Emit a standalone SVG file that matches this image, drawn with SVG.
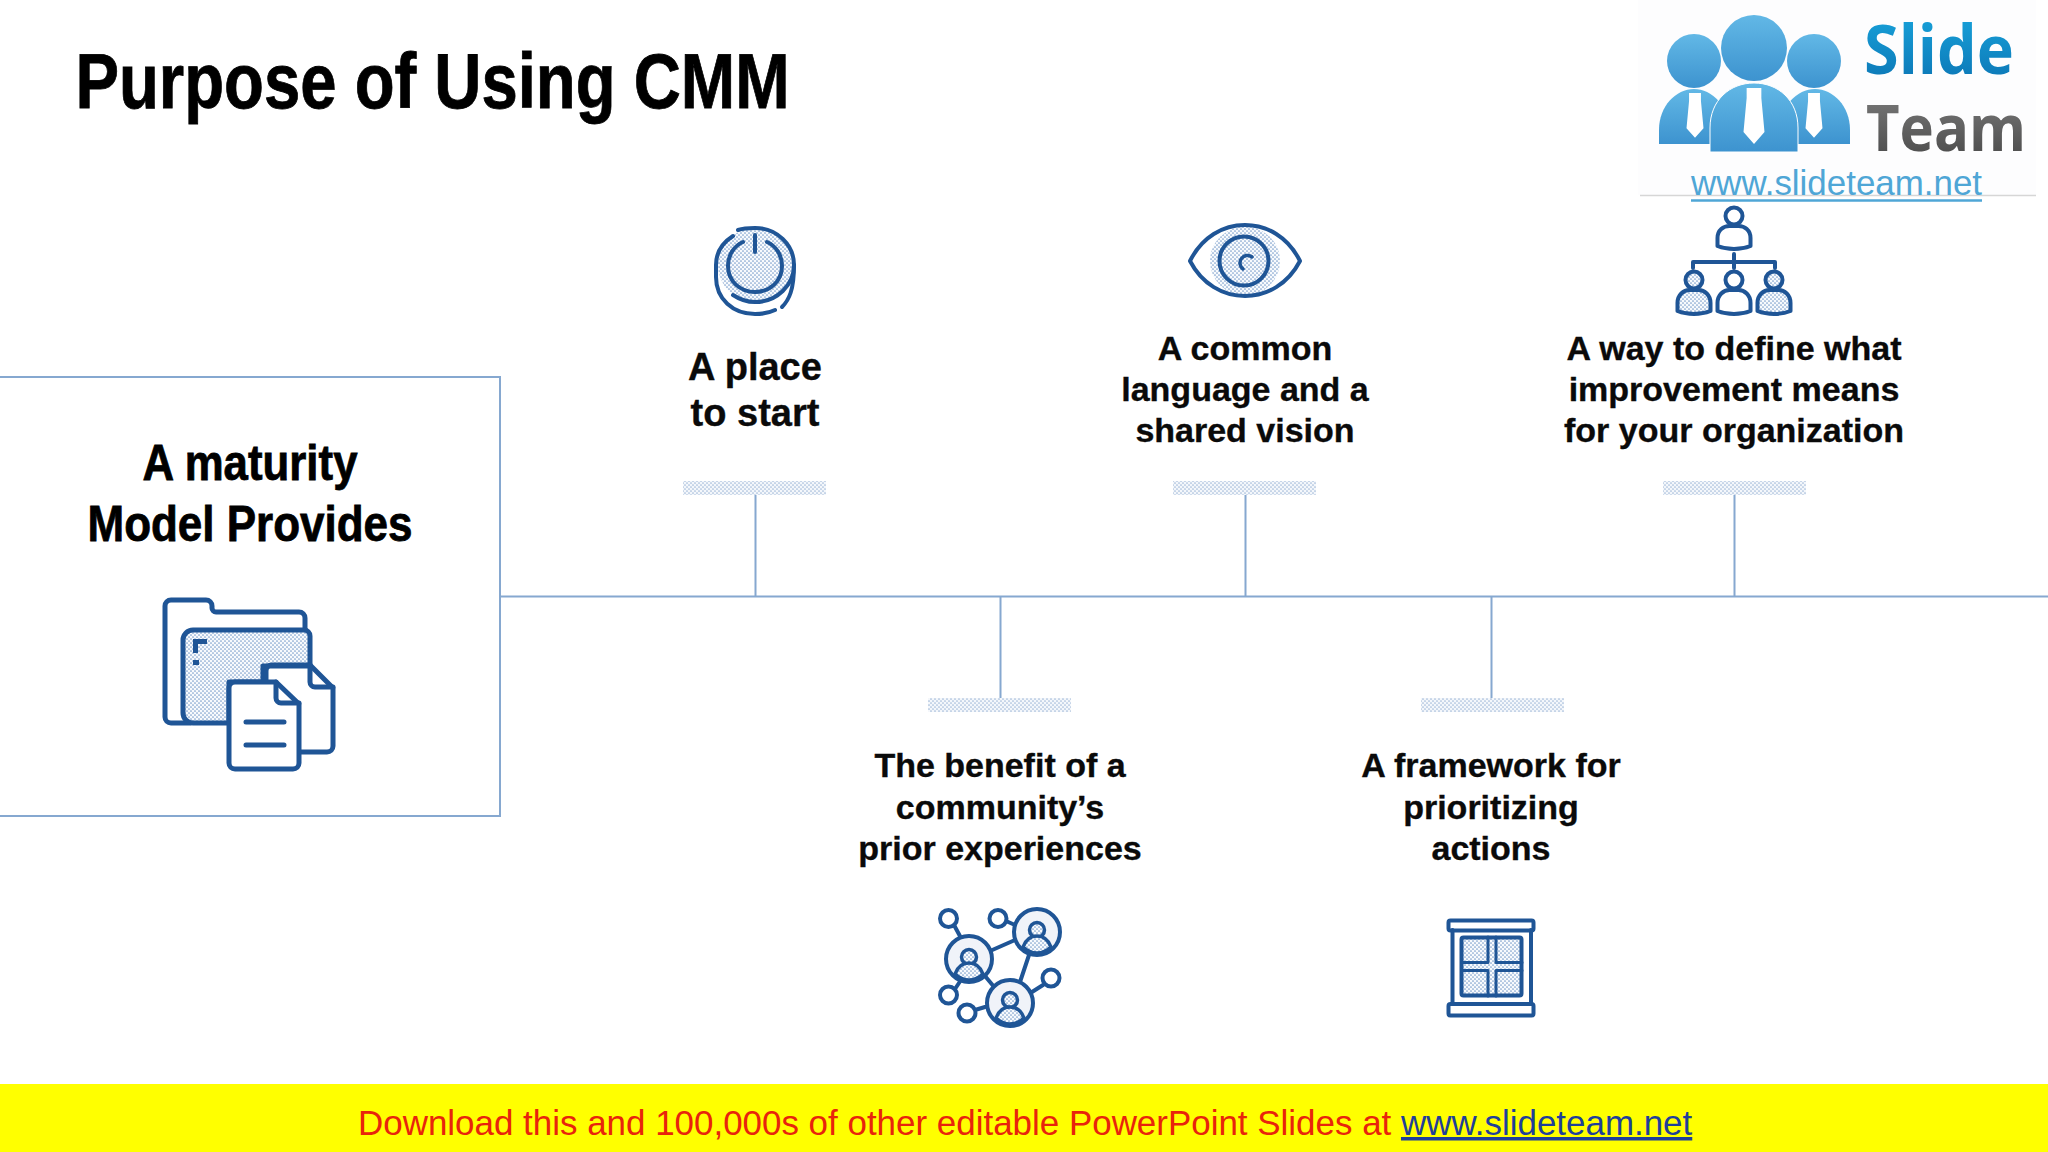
<svg xmlns="http://www.w3.org/2000/svg" width="2048" height="1152" viewBox="0 0 2048 1152">
<style>
.ic{fill:none;stroke:#1f5596;stroke-width:4;stroke-linecap:round;stroke-linejoin:round}
.th{stroke-width:5}
.dot{fill:url(#dots)}
.w{fill:#fff}
.conn{stroke:#86a8d0;stroke-width:2;fill:none}
.bar{fill:url(#bardots)}
.lab{font-family:"Liberation Sans",Arial,sans-serif;font-weight:700;fill:#0a0a0a;stroke:#0a0a0a;stroke-width:.35;text-anchor:middle;font-size:34px}
.big{font-size:38px}
.cond{font-family:"Liberation Sans",Arial,sans-serif;font-weight:700;fill:#000;stroke:#000;stroke-width:.8}
</style>
<defs>
<pattern id="dots" width="4" height="4" patternUnits="userSpaceOnUse"><rect width="4" height="4" fill="#f8fafd"/><circle cx="1" cy="1" r="0.85" fill="#7c9fcc"/><circle cx="3" cy="3" r="0.85" fill="#7c9fcc"/></pattern>
<pattern id="bardots" width="4" height="4" patternUnits="userSpaceOnUse"><rect width="4" height="4" fill="#f4f7fb"/><circle cx="1" cy="1" r="0.85" fill="#a3bbd9"/><circle cx="3" cy="3" r="0.85" fill="#a3bbd9"/></pattern>
<linearGradient id="lb" x1="0" y1="0" x2="0" y2="1"><stop offset="0" stop-color="#62b8e6"/><stop offset="1" stop-color="#3d93cf"/></linearGradient>
<linearGradient id="ts" x1="0" y1="0" x2="0" y2="1"><stop offset="0" stop-color="#1aa9e0"/><stop offset="1" stop-color="#0a70b0"/></linearGradient>
<linearGradient id="tg" x1="0" y1="0" x2="0" y2="1"><stop offset="0" stop-color="#808080"/><stop offset="1" stop-color="#444"/></linearGradient>
<g id="tie"><path d="M-7 0h14v10l3 34-10 12-10-12 3-34z" fill="#fff"/></g>
</defs>
<rect width="2048" height="1152" fill="#fff"/>
<text id="title" class="cond" x="75.500" y="107.500" font-size="77" textLength="714" lengthAdjust="spacingAndGlyphs">Purpose of Using CMM</text>

<g id="logo">
<rect x="1638" y="0" width="398" height="195" fill="#fdfdfe"/>
<path d="M1640 195.500H2036" stroke="#d6d6d6" stroke-width="1.500"/>
<path d="M1659 144v-14c0-24 17-41 35-41s35 17 35 41v14z" fill="url(#lb)"/>
<circle cx="1694" cy="61" r="27" fill="url(#lb)"/>
<path d="M1780 144v-14c0-24 17-41 35-41s35 17 35 41v14z" fill="url(#lb)"/>
<circle cx="1814" cy="61" r="27" fill="url(#lb)"/>
<path d="M1710 152v-24c0-28 20-45 44-45s44 17 44 45v24z" fill="url(#lb)" stroke="#fff" stroke-width="1"/>
<circle cx="1754" cy="48" r="33" fill="url(#lb)"/>
<use href="#tie" transform="translate(1695 93) scale(.85 .8)"/>
<use href="#tie" transform="translate(1754 88) scale(1.05 1)"/>
<use href="#tie" transform="translate(1814 93) scale(.85 .8)"/>
<text x="1864" y="74" font-family="Open Sans,sans-serif" font-weight="700" font-size="68" fill="url(#ts)" textLength="150" lengthAdjust="spacingAndGlyphs">Slide</text>
<text x="1866" y="151" font-family="Open Sans,sans-serif" font-weight="700" font-size="64" fill="url(#tg)" textLength="160" lengthAdjust="spacingAndGlyphs">Team</text>
<text x="1691" y="195" font-family="Liberation Sans,sans-serif" font-size="35" fill="#4fa6d6" textLength="291" lengthAdjust="spacingAndGlyphs">www.slideteam.net</text>
<path d="M1691 200.500H1982" stroke="#4fa6d6" stroke-width="2.500"/>
</g>

<g id="connectors">
<path class="conn" d="M500 596.500H2048M755.500 495V596M1245.500 495V596M1734.500 495V596M1000.500 596V699M1491.500 596V699"/>
<rect class="bar" x="683" y="481" width="143" height="14"/>
<rect class="bar" x="1173" y="481" width="143" height="14"/>
<rect class="bar" x="1663" y="481" width="143" height="14"/>
<rect class="bar" x="928" y="698" width="143" height="14"/>
<rect class="bar" x="1421" y="698" width="143" height="14"/>
</g>

<g id="box">
<rect x="-5" y="377" width="505" height="439" fill="#fff" stroke="#86a8d0" stroke-width="2"/>
<text class="cond" x="250" y="480" font-size="50" text-anchor="middle" textLength="215" lengthAdjust="spacingAndGlyphs">A maturity</text>
<text class="cond" x="250" y="541" font-size="50" text-anchor="middle" textLength="325" lengthAdjust="spacingAndGlyphs">Model Provides</text>
<g class="ic th">
<path d="M190 723h-19a6 6 0 0 1-6-6V606a6 6 0 0 1 6-6h35a6 6 0 0 1 6 6v2a4 4 0 0 0 4 4h83a6 6 0 0 1 6 6v12"/>
<path class="dot" d="M265 723h-72a10 10 0 0 1-10-10V640a10 10 0 0 1 10-10h111a6 6 0 0 1 6 6v30h-47v16h-34v41z"/>
<path d="M266 682v-11a6 6 0 0 1 6-6h38l23 23v58a6 6 0 0 1-6 6h-28"/>
<path d="M310 665v17a5 5 0 0 0 5 5h18"/>
<path class="w" d="M235 682h41l23 22v59a6 6 0 0 1-6 6h-58a6 6 0 0 1-6-6v-75a6 6 0 0 1 6-6z"/>
<path d="M276 682v16a5 5 0 0 0 5 5h18M246 722h38M246 745h38"/>
</g>
<path d="M193 639h14v5h-9v9h-5zM193 660h6v5h-6z" fill="#1f5596"/>
</g>

<g id="place">
<circle class="dot" cx="755" cy="265" r="37"/>
<g class="ic" stroke-width="3.500">
<path d="M733 236C722 243 716 253 716 265V277C716 299 733 314 755 314C762 314 769 313 775 310"/>
<path d="M738 230C744 228 749 228 755 228C777 228 794 245 794 265C794 285 777 302 755 302C747 302 739 299 733 295"/>
<path d="M782 307C789 300 794 290 794 265"/>
<path d="M743 242C734 246 728 255 728 266C728 281 740 292 755 292C770 292 782 281 782 266C782 255 776 246 767 242"/>
<path d="M755 235v17"/>
</g>
<text class="lab big" x="755" y="380">A place</text>
<text class="lab big" x="755" y="426">to start</text>
</g>

<g id="vision">
<g class="ic">
<ellipse class="dot" cx="1245" cy="261" rx="35" ry="34.500" stroke="none"/>
<path d="M1190 261c12-24 33-36 55-36s43 12 55 36c-12 23-33 35-55 35s-43-12-55-35z"/>
<circle cx="1244" cy="261" r="24.500"/>
<path d="M1252 257a7.500 7.500 0 1 0-9 12" stroke-width="3.500"/>
</g>
<text class="lab" x="1245" y="360">A common</text>
<text class="lab" x="1245" y="401">language and a</text>
<text class="lab" x="1245" y="442">shared vision</text>
</g>

<g id="improvement">
<g class="ic" stroke-width="3.500">
<circle cx="1734" cy="216" r="8.500"/>
<path d="M1717.500 246v-8c0-8 6-12 12-12h9c6 0 12 4 12 12v8c-10 4-23 4-33 0z"/>
<path d="M1693 268v-6h82v6M1734 254v14"/>
<circle class="dot" cx="1694" cy="280" r="8.500"/>
<path class="dot" d="M1677.500 311v-8c0-8 6-13 12-13h9c6 0 12 5 12 13v8c-10 4-23 4-33 0z"/>
<circle cx="1734" cy="280" r="8.500"/>
<path d="M1717.500 311v-8c0-8 6-13 12-13h9c6 0 12 5 12 13v8c-10 4-23 4-33 0z"/>
<circle class="dot" cx="1774" cy="280" r="8.500"/>
<path class="dot" d="M1757.500 311v-8c0-8 6-13 12-13h9c6 0 12 5 12 13v8c-10 4-23 4-33 0z"/>
</g>
<text class="lab" x="1734" y="360">A way to define what</text>
<text class="lab" x="1734" y="401">improvement means</text>
<text class="lab" x="1734" y="442">for your organization</text>
</g>

<g id="experiences">
<text class="lab" x="1000" y="777">The benefit of a</text>
<text class="lab" x="1000" y="819">community’s</text>
<text class="lab" x="1000" y="860">prior experiences</text>
<g class="ic">
<path d="M954 925l7 13M1006 921l9 4M990 951l25-11M1029 955l-9 27M985 976l10 12M1032 992l11-7M955 989l6-9M975 1010l10-3"/>
<g fill="#f0f3f9"><circle cx="969" cy="959" r="23"/><circle cx="1037" cy="932" r="23"/><circle cx="1010" cy="1003" r="23"/></g>
<circle class="w" cx="948.500" cy="918.500" r="8.500"/><circle class="w" cx="998" cy="918.500" r="8.500"/><circle class="w" cx="1051" cy="978" r="8.500"/><circle class="w" cx="948.500" cy="995" r="8.500"/><circle class="w" cx="967" cy="1013" r="8.500"/>
<g stroke-width="3.500">
<circle class="dot" cx="969" cy="957" r="7.500"/><path class="dot" d="M955 974c3-8 8-11 14-11s11 3 14 11c-8 8-20 8-28 0z"/>
<circle class="dot" cx="1037" cy="930" r="7.500"/><path class="dot" d="M1023 947c3-8 8-11 14-11s11 3 14 11c-8 8-20 8-28 0z"/>
<circle class="dot" cx="1010" cy="1000" r="7.500"/><path class="dot" d="M996 1018c3-8 8-11 14-11s11 3 14 11c-8 8-20 8-28 0z"/>
</g>
</g>
</g>

<g id="framework">
<text class="lab" x="1491" y="777">A framework for</text>
<text class="lab" x="1491" y="819">prioritizing</text>
<text class="lab" x="1491" y="860">actions</text>
<g class="ic" stroke-width="3.500">
<path d="M1452.500 930V1003M1531 930V1003"/>
<rect x="1448.500" y="920.500" width="85" height="10" rx="2"/>
<rect x="1448.500" y="1004" width="85" height="11.500" rx="2"/>
<rect class="dot" x="1461.500" y="937.500" width="60" height="58" rx="2"/>
<path d="M1462 962.500h26V937M1496 937v25.500h26M1462 970.500h26V996M1496 996v-25.500h26" stroke-width="3"/>
</g>
</g>

<g id="footer">
<rect y="1084" width="2048" height="68" fill="#ffff00"/>
<text x="358" y="1135" font-family="Liberation Sans,sans-serif" font-size="34.950" fill="#e8240c">Download this and 100,000s of other editable PowerPoint Slides at <tspan fill="#1f3f99" text-decoration="underline">www.slideteam.net</tspan></text>
</g>
</svg>
